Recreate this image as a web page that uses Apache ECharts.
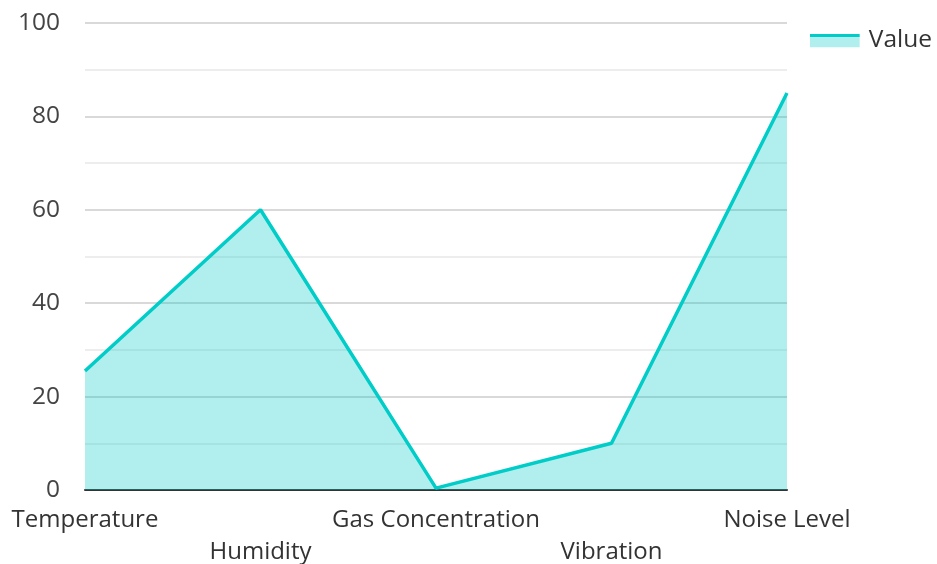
<!DOCTYPE html>
<html>
<head>
<meta charset="utf-8">
<script src="https://cdn.jsdelivr.net/npm/echarts@6/dist/echarts.min.js"></script>
<style>html,body{margin:0;padding:0;background:#fff;overflow:hidden;}#c{width:100vw;height:100vh;}</style>
</head>
<body>
<div id="c"></div>
<script>
const categories = ['Temperature', 'Humidity', 'Gas Concentration', 'Vibration', 'Noise Level'];
const values = [25.5, 60, 0.4, 10, 85];
const seriesName = 'Value';

const lineColor = '#00CCC8';
const areaColor = 'rgba(0,204,199,0.31)';
const iconSvg = '<svg xmlns="http://www.w3.org/2000/svg" width="50" height="14" viewBox="0 0 50 14">' +
  '<rect x="0" y="3" width="50" height="11" fill="' + areaColor + '"/>' +
  '<rect x="0" y="0" width="50" height="3.5" fill="' + lineColor + '"/></svg>';

const chart = echarts.init(document.getElementById('c'));
chart.setOption({
  animation: false,
  textStyle: { fontFamily: 'Open Sans' },
  legend: {
    data: [{ name: seriesName, icon: 'image://data:image/svg+xml;charset=utf-8,' + encodeURIComponent(iconSvg) }],
    right: 0,
    top: 23,
    itemWidth: 50,
    itemHeight: 14,
    itemGap: 10,
    textStyle: { fontSize: 24.5, color: '#333', fontFamily: 'Open Sans', padding: [0, 0, 0, 4] }
  },
  grid: { left: 85, right: 150, top: 23, bottom: 74, containLabel: false, outerBoundsMode: 'none' },
  xAxis: {
    type: 'category',
    data: categories,
    boundaryGap: false,
    axisLine: { lineStyle: { color: '#333', width: 2 } },
    axisTick: { show: false },
    axisLabel: {
      interval: 0,
      fontSize: 24,
      color: '#333',
      margin: 14,
      lineHeight: 32,
      formatter: function (v, i) { return i % 2 === 1 ? '\n' + v : v; }
    }
  },
  yAxis: {
    type: 'value',
    min: 0,
    max: 100,
    interval: 20,
    axisLine: { show: false },
    axisTick: { show: false },
    axisLabel: { fontSize: 24.5, color: '#444', margin: 25 },
    splitLine: { lineStyle: { color: '#ccc', width: 1.5 } },
    minorTick: { show: false, splitNumber: 2 },
    minorSplitLine: { show: true, lineStyle: { color: '#e8e8e8', width: 1.5 } }
  },
  series: [{
    name: seriesName,
    type: 'line',
    data: values,
    symbol: 'none',
    lineStyle: { color: lineColor, width: 3.5 },
    itemStyle: { color: lineColor },
    areaStyle: { color: areaColor, opacity: 1 }
  }]
});
</script>
</body>
</html>
